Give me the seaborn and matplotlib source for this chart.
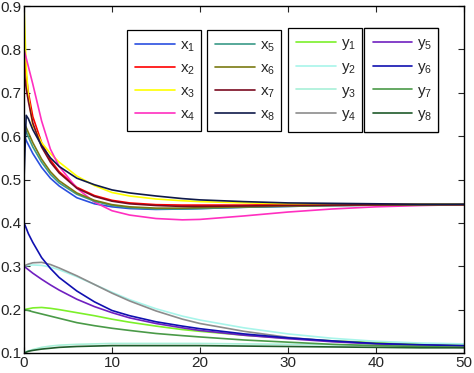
import numpy as np
import pandas as pd
import seaborn as sns
import matplotlib
matplotlib.use("Agg")
import matplotlib.pyplot as plt

# time samples
t = [0, 0.25, 0.5, 1, 2, 3, 4, 6, 8, 10, 12, 15, 18, 20, 25, 30, 35, 40, 45, 50]

x1 = [0.600, 0.590, 0.580, 0.560, 0.528, 0.503, 0.485, 0.458, 0.444, 0.437, 0.433, 0.431, 0.432, 0.433, 0.436, 0.438, 0.440, 0.441, 0.441, 0.442]
x2 = [0.800, 0.740, 0.700, 0.645, 0.585, 0.545, 0.518, 0.482, 0.463, 0.452, 0.446, 0.442, 0.441, 0.441, 0.441, 0.442, 0.442, 0.442, 0.442, 0.442]
x3 = [0.900, 0.760, 0.690, 0.625, 0.585, 0.560, 0.540, 0.508, 0.486, 0.470, 0.462, 0.455, 0.451, 0.449, 0.446, 0.444, 0.443, 0.443, 0.443, 0.443]
x4 = [0.800, 0.780, 0.760, 0.720, 0.635, 0.570, 0.530, 0.480, 0.448, 0.428, 0.418, 0.410, 0.407, 0.408, 0.416, 0.425, 0.432, 0.437, 0.440, 0.442]
x5 = [0.620, 0.610, 0.598, 0.575, 0.540, 0.512, 0.492, 0.466, 0.450, 0.440, 0.435, 0.432, 0.432, 0.433, 0.436, 0.438, 0.440, 0.441, 0.441, 0.442]
x6 = [0.630, 0.620, 0.608, 0.585, 0.547, 0.518, 0.497, 0.469, 0.452, 0.442, 0.437, 0.434, 0.434, 0.435, 0.437, 0.439, 0.440, 0.441, 0.442, 0.442]
x7 = [0.750, 0.710, 0.680, 0.630, 0.575, 0.540, 0.515, 0.480, 0.461, 0.450, 0.444, 0.440, 0.438, 0.438, 0.439, 0.440, 0.441, 0.442, 0.442, 0.442]
x8 = [0.500, 0.648, 0.640, 0.615, 0.578, 0.550, 0.530, 0.503, 0.488, 0.476, 0.469, 0.462, 0.456, 0.453, 0.449, 0.446, 0.445, 0.444, 0.443, 0.443]

y1 = [0.200, 0.201, 0.202, 0.204, 0.205, 0.203, 0.200, 0.193, 0.186, 0.178, 0.171, 0.162, 0.154, 0.150, 0.141, 0.134, 0.128, 0.124, 0.121, 0.118]
y2 = [0.300, 0.301, 0.302, 0.303, 0.302, 0.298, 0.292, 0.276, 0.258, 0.240, 0.223, 0.202, 0.185, 0.176, 0.158, 0.144, 0.134, 0.127, 0.123, 0.121]
y3 = [0.100, 0.103, 0.105, 0.108, 0.113, 0.116, 0.118, 0.120, 0.121, 0.122, 0.122, 0.122, 0.122, 0.122, 0.121, 0.120, 0.119, 0.118, 0.117, 0.117]
y4 = [0.300, 0.303, 0.305, 0.308, 0.309, 0.304, 0.296, 0.278, 0.258, 0.238, 0.220, 0.197, 0.178, 0.168, 0.150, 0.136, 0.127, 0.121, 0.118, 0.116]
y5 = [0.300, 0.296, 0.292, 0.284, 0.270, 0.257, 0.245, 0.224, 0.207, 0.193, 0.181, 0.168, 0.158, 0.152, 0.141, 0.133, 0.126, 0.121, 0.118, 0.116]
y6 = [0.400, 0.388, 0.375, 0.355, 0.320, 0.295, 0.274, 0.243, 0.218, 0.198, 0.186, 0.172, 0.162, 0.156, 0.144, 0.135, 0.128, 0.122, 0.119, 0.117]
y7 = [0.200, 0.199, 0.198, 0.195, 0.190, 0.185, 0.180, 0.170, 0.163, 0.157, 0.152, 0.145, 0.140, 0.137, 0.130, 0.125, 0.120, 0.117, 0.115, 0.113]
y8 = [0.100, 0.102, 0.104, 0.106, 0.109, 0.111, 0.113, 0.115, 0.116, 0.117, 0.117, 0.117, 0.117, 0.117, 0.116, 0.115, 0.114, 0.113, 0.112, 0.112]

names = ["x1", "x2", "x3", "x4", "x5", "x6", "x7", "x8",
         "y1", "y2", "y3", "y4", "y5", "y6", "y7", "y8"]
series = [x1, x2, x3, x4, x5, x6, x7, x8, y1, y2, y3, y4, y5, y6, y7, y8]
colors = ["#2a4fe0", "#ff0000", "#ffff00", "#ff2fc0", "#3a9a88", "#7a7a12", "#7a0a20", "#0f1a4a",
          "#7cf02a", "#a8f5ea", "#a8f0d8", "#8c8c8c", "#7020c0", "#1010b0", "#4a9a48", "#1f5a2a"]

rows = []
for n, s in zip(names, series):
    for ti, v in zip(t, s):
        rows.append((n, ti, v))
df = pd.DataFrame(rows, columns=["name", "t", "value"])

sns.set_style("white")
plt.rcParams["font.family"] = ["Liberation Sans", "DejaVu Sans"]
plt.rcParams["mathtext.fontset"] = "custom"
plt.rcParams["mathtext.rm"] = "Liberation Sans"
plt.rcParams["mathtext.it"] = "Liberation Sans"

fig = plt.figure(figsize=(4.74, 3.73), dpi=100)
ax = fig.add_axes([24 / 474, 1 - 353 / 373, 440 / 474, 347 / 373])

sns.lineplot(data=df, x="t", y="value", hue="name", hue_order=names,
             palette=dict(zip(names, colors)), linewidth=1.2, ax=ax, legend=False)

ax.set_xlim(0, 50)
ax.set_ylim(0.1, 0.9)
ax.set_xticks([0, 10, 20, 30, 40, 50])
ax.set_yticks([0.1, 0.2, 0.3, 0.4, 0.5, 0.6, 0.7, 0.8, 0.9])
ax.set_xlabel("")
ax.set_ylabel("")
ax.tick_params(direction="in", length=4, width=0.8, labelsize=11,
               top=True, right=True, bottom=True, left=True, pad=2)
for sp in ax.spines.values():
    sp.set_linewidth(1.0)
    sp.set_color("black")

lines = {n: l for n, l in zip(names, ax.get_lines())}

# four separate legend boxes: (names, left, bottom, top) in axes fraction
boxes = [(names[0:4], 0.234, 0.637, 0.931), (names[4:8], 0.416, 0.637, 0.931),
         (names[8:12], 0.600, 0.625, 0.937), (names[12:16], 0.773, 0.625, 0.937)]
for group, x0, yb, yt in boxes:
    handles = [lines[n] for n in group]
    labels = [n[0] + "$_{" + n[1] + "}$" for n in group]
    leg = ax.legend(handles, labels, loc="upper left",
                    bbox_to_anchor=(x0, yb, 0.168, yt - yb), mode="expand",
                    borderaxespad=0, fontsize=11, handlelength=2.6,
                    handletextpad=0.3, labelspacing=0.5, frameon=True,
                    fancybox=False, edgecolor="black", framealpha=1,
                    borderpad=0.55)
    leg.get_frame().set_linewidth(0.9)
    ax.add_artist(leg)

fig.savefig("out.png", dpi=100)
